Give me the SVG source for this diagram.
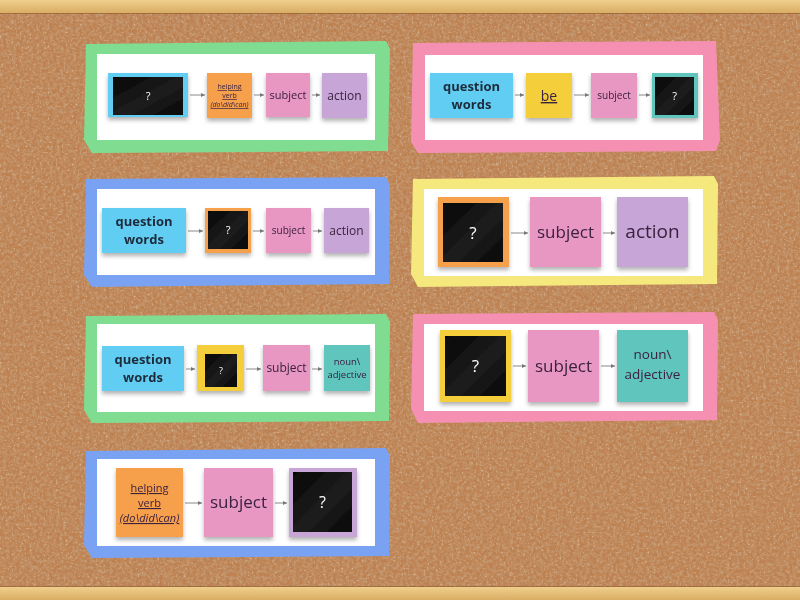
<svg xmlns="http://www.w3.org/2000/svg" width="800" height="600" viewBox="0 0 800 600">
<defs>
<filter id="corkf" x="0" y="0" width="100%" height="100%">
<feTurbulence type="fractalNoise" baseFrequency="0.3" numOctaves="3" seed="4" result="n"/>
<feColorMatrix in="n" type="matrix" values="0 0 0 0 0.55  0 0 0 0 0.33  0 0 0 0 0.18  0 0 0 -2 1.3" result="c"/>
</filter>
<filter id="corkl" x="0" y="0" width="100%" height="100%">
<feTurbulence type="fractalNoise" baseFrequency="0.5" numOctaves="2" seed="9" result="n"/>
<feColorMatrix in="n" type="matrix" values="0 0 0 0 0.86  0 0 0 0 0.64  0 0 0 0 0.44  0 0 0 2.4 -1.45"/>
</filter>
<linearGradient id="wood" x1="0" y1="0" x2="0" y2="1">
<stop offset="0" stop-color="#f0cf8c"/>
<stop offset="1" stop-color="#d9ad64"/>
</linearGradient>
<linearGradient id="blk" x1="0" y1="0" x2="1" y2="1">
<stop offset="0" stop-color="#050505"/>
<stop offset="0.55" stop-color="#1e1e1e"/>
<stop offset="1" stop-color="#060606"/>
</linearGradient>
<filter id="sh" x="-20%" y="-20%" width="140%" height="150%">
<feDropShadow dx="0" dy="3" stdDeviation="2" flood-color="#000" flood-opacity="0.3"/>
</filter>
<marker id="ar" viewBox="0 0 6 6" refX="5" refY="3" markerWidth="5" markerHeight="5" orient="auto">
<path d="M0,0.5 L5,3 L0,5.5 z" fill="#777"/>
</marker>
<style>
.w{fill:#ffffff}
.t{font-family:"Open Sans","Noto Sans","Liberation Sans",sans-serif;fill:#3a2140;text-anchor:middle}
.b{font-weight:bold;fill:#1d2b3a}
.q{fill:#ffffff}
.u{text-decoration:underline}
.cy{fill:#62cdf3}
.or{fill:#f7a04c}
.pk{fill:#e897c2}
.pu{fill:#c7a5d6}
.ye{fill:#f4cf3a}
.te{fill:#5ec5bd}
.bk{fill:url(#blk)}
.c line{stroke:#888;stroke-width:1;marker-end:url(#ar)}
</style>
</defs>
<rect width="800" height="600" fill="#bd8050"/>
<rect width="800" height="600" fill="#bd8050" filter="url(#corkf)"/>
<rect width="800" height="600" fill="#bd8050" filter="url(#corkl)"/>
<rect x="0" y="0" width="800" height="13" fill="url(#wood)"/>
<rect x="0" y="13" width="800" height="1" fill="#8a5a30" opacity="0.6"/>
<rect x="0" y="587" width="800" height="13" fill="url(#wood)"/>
<rect x="0" y="586" width="800" height="1" fill="#8a5a30" opacity="0.6"/>

<!-- Card 1 green -->
<g id="card1">
<polygon points="86,44 386,41 390,49 388,151 92,153 84,140" fill="#80dc91"/>
<rect class="w" x="97" y="54" width="278" height="86"/>
</g>
<g id="c1n1" filter="url(#sh)"><rect class="cy" x="108" y="73" width="80" height="44"/><rect class="bk" x="113" y="77" width="70" height="38"/><text class="t q" x="148" y="100" font-size="11">?</text></g>
<g id="c1n2" filter="url(#sh)"><rect class="or" x="207" y="73" width="45" height="45"/><text class="t u" font-size="7"><tspan x="229.5" y="89">helping</tspan><tspan x="229.5" y="98">verb</tspan><tspan x="229.5" y="107" font-style="italic">(do\did\can)</tspan></text></g>
<g id="c1n3" filter="url(#sh)"><rect class="pk" x="266" y="73" width="44" height="44"/><text class="t" x="288" y="99" font-size="11">subject</text></g>
<g id="c1n4" filter="url(#sh)"><rect class="pu" x="322" y="73" width="45" height="45"/><text class="t" x="344.5" y="100" font-size="12">action</text></g>

<!-- Card 2 pink -->
<g id="card2">
<polygon points="413,43 716,41 720,140 716,151 418,153 411,142" fill="#f590b3"/>
<rect class="w" x="425" y="55" width="278" height="85"/>
</g>
<g id="c2n1" filter="url(#sh)"><rect class="cy" x="430" y="73" width="83" height="45"/><text class="t b" font-size="13"><tspan x="471.5" y="91">question</tspan><tspan x="471.5" y="109">words</tspan></text></g>
<g id="c2n2" filter="url(#sh)"><rect class="ye" x="526" y="73" width="46" height="45"/><text class="t u" x="549" y="101" font-size="14">be</text></g>
<g id="c2n3" filter="url(#sh)"><rect class="pk" x="591" y="73" width="46" height="45"/><text class="t" x="614" y="99" font-size="10">subject</text></g>
<g id="c2n4" filter="url(#sh)"><rect class="te" x="652" y="73" width="46" height="45"/><rect class="bk" x="655" y="77" width="39" height="38"/><text class="t q" x="674.5" y="100" font-size="11">?</text></g>

<!-- Card 3 blue -->
<g id="card3">
<polygon points="86,179 386,177 390,186 389,284 92,287 84,275" fill="#7aa2f2"/>
<rect class="w" x="97" y="189" width="278" height="86"/>
</g>
<g id="c3n1" filter="url(#sh)"><rect class="cy" x="102" y="208" width="84" height="45"/><text class="t b" font-size="13"><tspan x="144" y="226">question</tspan><tspan x="144" y="244">words</tspan></text></g>
<g id="c3n2" filter="url(#sh)"><rect class="or" x="205" y="208" width="46" height="45"/><rect class="bk" x="208" y="211" width="40" height="38"/><text class="t q" x="228" y="234" font-size="11">?</text></g>
<g id="c3n3" filter="url(#sh)"><rect class="pk" x="266" y="208" width="45" height="45"/><text class="t" x="288.5" y="234" font-size="10">subject</text></g>
<g id="c3n4" filter="url(#sh)"><rect class="pu" x="324" y="208" width="45" height="45"/><text class="t" x="346.5" y="235" font-size="12">action</text></g>

<!-- Card 4 yellow -->
<g id="card4">
<polygon points="413,179 714,176 718,184 717,284 418,287 411,274" fill="#f5e87c"/>
<rect class="w" x="424" y="189" width="279" height="87"/>
</g>
<g id="c4n1" filter="url(#sh)"><rect class="or" x="438" y="197" width="71" height="70"/><rect class="bk" x="443" y="203" width="60" height="59"/><text class="t q" x="473" y="239" font-size="17">?</text></g>
<g id="c4n2" filter="url(#sh)"><rect class="pk" x="530" y="197" width="71" height="70"/><text class="t" x="565.5" y="238" font-size="17">subject</text></g>
<g id="c4n3" filter="url(#sh)"><rect class="pu" x="617" y="197" width="71" height="70"/><text class="t" x="652.5" y="238" font-size="19">action</text></g>

<!-- Card 5 green -->
<g id="card5">
<polygon points="86,316 386,314 390,322 389,421 92,423 84,410" fill="#80dc91"/>
<rect class="w" x="97" y="324" width="278" height="88"/>
</g>
<g id="c5n1" filter="url(#sh)"><rect class="cy" x="102" y="346" width="82" height="45"/><text class="t b" font-size="13"><tspan x="143" y="364">question</tspan><tspan x="143" y="382">words</tspan></text></g>
<g id="c5n2" filter="url(#sh)"><rect class="ye" x="197" y="345" width="47" height="46"/><rect class="bk" x="205" y="354" width="32" height="33"/><text class="t q" x="221" y="374" font-size="9">?</text></g>
<g id="c5n3" filter="url(#sh)"><rect class="pk" x="263" y="345" width="47" height="46"/><text class="t" x="286.5" y="372" font-size="12">subject</text></g>
<g id="c5n4" filter="url(#sh)"><rect class="te" x="324" y="345" width="46" height="46"/><text class="t" font-size="9.5"><tspan x="347" y="365">noun\</tspan><tspan x="347" y="378">adjective</tspan></text></g>

<!-- Card 6 pink -->
<g id="card6">
<polygon points="413,314 714,312 718,320 717,420 418,423 411,409" fill="#f590b3"/>
<rect class="w" x="424" y="324" width="279" height="87"/>
</g>
<g id="c6n1" filter="url(#sh)"><rect class="ye" x="440" y="330" width="71" height="72"/><rect class="bk" x="445" y="336" width="61" height="60"/><text class="t q" x="475.5" y="372" font-size="17">?</text></g>
<g id="c6n2" filter="url(#sh)"><rect class="pk" x="528" y="330" width="71" height="72"/><text class="t" x="563.5" y="372" font-size="17">subject</text></g>
<g id="c6n3" filter="url(#sh)"><rect class="te" x="617" y="330" width="71" height="72"/><text class="t" font-size="13.5"><tspan x="652.5" y="359">noun\</tspan><tspan x="652.5" y="379">adjective</tspan></text></g>

<!-- Card 7 blue -->
<g id="card7">
<polygon points="86,451 386,448 390,456 389,556 92,558 84,545" fill="#7aa2f2"/>
<rect class="w" x="97" y="459" width="278" height="87"/>
</g>
<g id="c7n1" filter="url(#sh)"><rect class="or" x="116" y="468" width="67" height="69"/><text class="t u" font-size="11"><tspan x="149.5" y="492">helping</tspan><tspan x="149.5" y="507">verb</tspan><tspan x="149.5" y="522" font-style="italic">(do\did\can)</tspan></text></g>
<g id="c7n2" filter="url(#sh)"><rect class="pk" x="204" y="468" width="69" height="69"/><text class="t" x="238.5" y="508" font-size="17">subject</text></g>
<g id="c7n3" filter="url(#sh)"><rect class="pu" x="289" y="468" width="68" height="69"/><rect class="bk" x="293" y="472" width="59" height="60"/><text class="t q" x="322.5" y="508" font-size="16">?</text></g>

<g id="connectors" class="c">
<line x1="190" y1="95" x2="205" y2="95"/>
<line x1="254" y1="95" x2="264" y2="95"/>
<line x1="312" y1="95" x2="320" y2="95"/>
<line x1="515" y1="95" x2="524" y2="95"/>
<line x1="574" y1="95" x2="589" y2="95"/>
<line x1="639" y1="95" x2="650" y2="95"/>
<line x1="188" y1="231" x2="203" y2="231"/>
<line x1="253" y1="231" x2="264" y2="231"/>
<line x1="313" y1="231" x2="322" y2="231"/>
<line x1="511" y1="233" x2="528" y2="233"/>
<line x1="603" y1="233" x2="615" y2="233"/>
<line x1="186" y1="369" x2="195" y2="369"/>
<line x1="246" y1="369" x2="261" y2="369"/>
<line x1="312" y1="369" x2="322" y2="369"/>
<line x1="513" y1="366" x2="526" y2="366"/>
<line x1="601" y1="366" x2="615" y2="366"/>
<line x1="185" y1="503" x2="202" y2="503"/>
<line x1="275" y1="503" x2="287" y2="503"/>
</g>
</svg>
